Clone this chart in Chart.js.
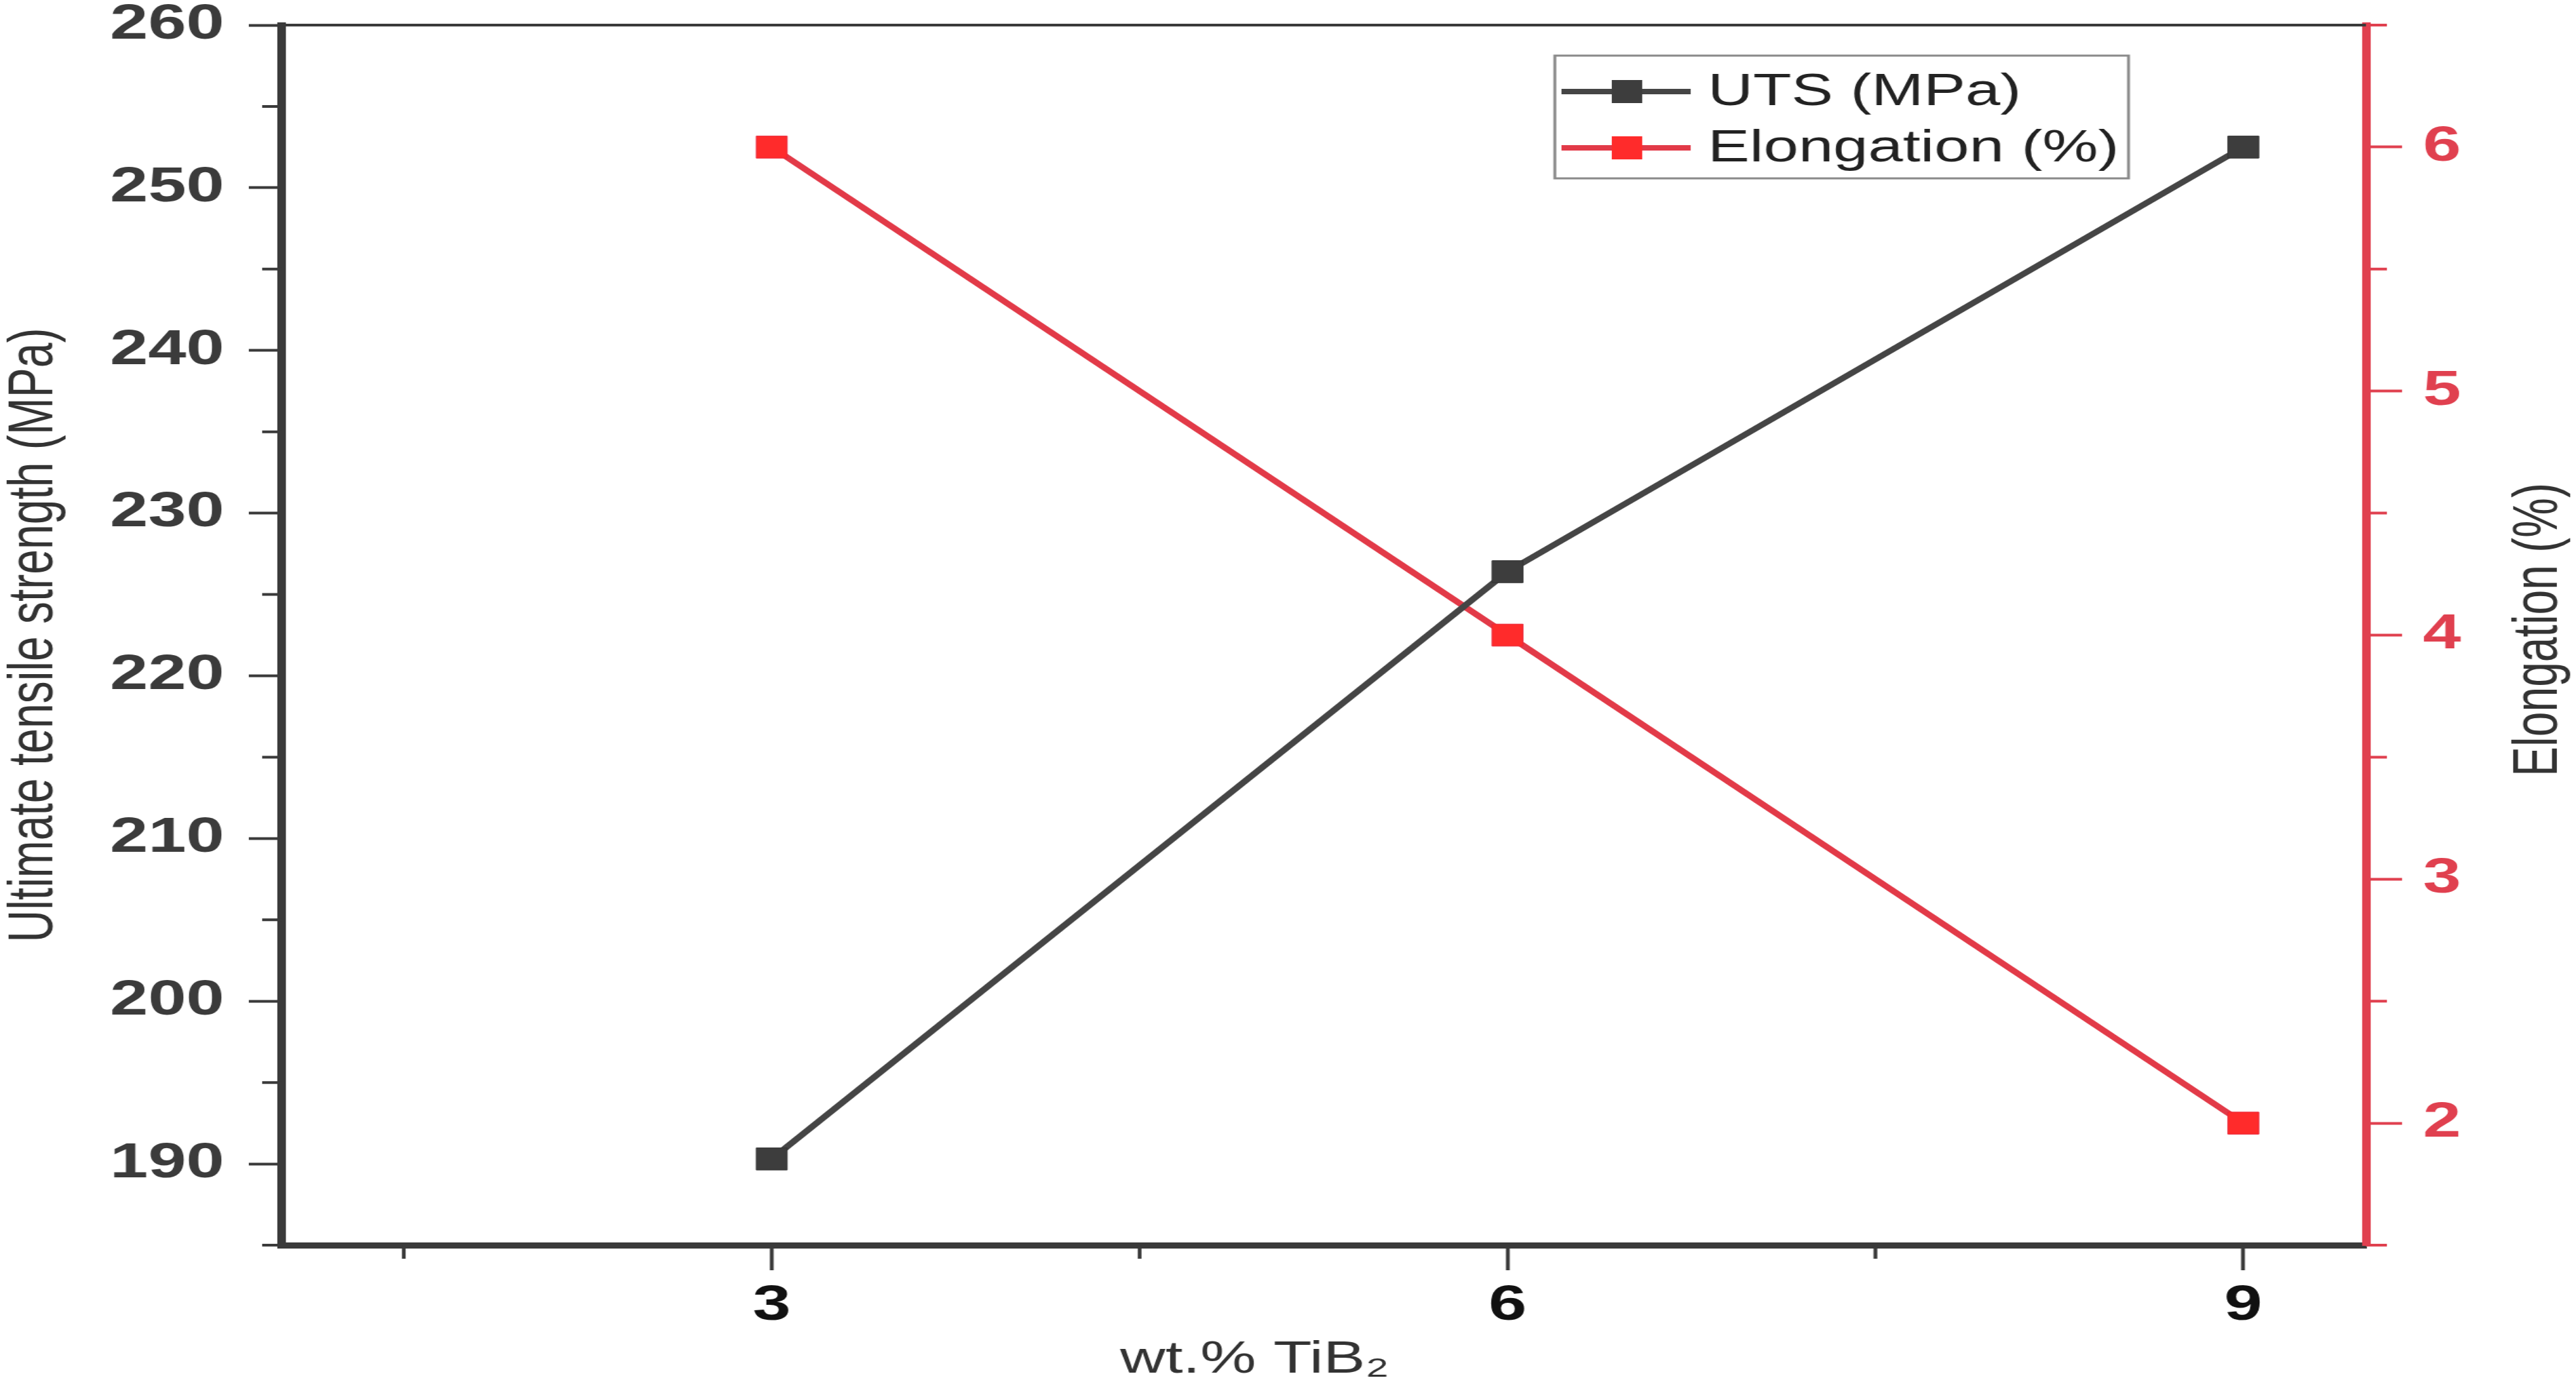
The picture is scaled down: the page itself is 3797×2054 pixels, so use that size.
<!DOCTYPE html>
<html>
<head>
<meta charset="utf-8">
<script src="https://cdn.jsdelivr.net/npm/chart.js@4.4.1/dist/chart.umd.min.js"></script>
<style>
  html, body { margin: 0; padding: 0; background: #fff; overflow: hidden; }
  /* the source figure is stretched sideways, so the chart is drawn narrower and widened */
  #wrap { width: 2712px; height: 2054px; transform: scaleX(1.4); transform-origin: 0 0; }
</style>
</head>
<body>
<div id="wrap"><canvas id="chart" width="2712" height="2054"></canvas></div>
<script>
const tib2 = [3, 6, 9];
const uts = [190.3, 226.4, 252.5];
const elongation = [6, 4, 2];

const xTicks = [3, 6, 9];
const xMinor = [1.5, 4.5, 7.5];
const utsTicks = [190, 200, 210, 220, 230, 240, 250, 260];
const utsMinor = [185, 195, 205, 215, 225, 235, 245, 255];
const elongTicks = [2, 3, 4, 5, 6];
const elongMinor = [1.5, 2.5, 3.5, 4.5, 5.5, 6.5];

const xTitle = "wt.% TiB₂";
const utsTitle = "Ultimate tensile strength (MPa)";
const elongTitle = "Elongation (%)";

const DARK = "#3a3a3a";
const RED = "#e0404f";
const FONT = "'Liberation Sans', Arial, sans-serif";

const minorTicks = {
  id: "minorTicks",
  afterDraw(chart) {
    const { ctx, chartArea } = chart;
    const { x, y, y1 } = chart.scales;
    ctx.save();
    ctx.lineWidth = 4;
    ctx.strokeStyle = DARK;
    ctx.beginPath();
    xMinor.forEach(v => {
      const px = x.getPixelForValue(v);
      ctx.moveTo(px, x.top);
      ctx.lineTo(px, x.top + 20);
    });
    utsMinor.forEach(v => {
      const py = y.getPixelForValue(v);
      ctx.moveTo(y.right, py);
      ctx.lineTo(y.right - 20, py);
    });
    ctx.moveTo(chartArea.left, chartArea.top);
    ctx.lineTo(chartArea.right, chartArea.top);
    ctx.stroke();
    ctx.strokeStyle = RED;
    ctx.beginPath();
    elongMinor.forEach(v => {
      const py = y1.getPixelForValue(v);
      ctx.moveTo(y1.left, py);
      ctx.lineTo(y1.left + 22, py);
    });
    ctx.stroke();
    ctx.restore();
  }
};

// right title reads bottom-to-top like the left one, x title sits left of centre
const axisTitles = {
  id: "axisTitles",
  afterDraw(chart) {
    const { ctx, chartArea } = chart;
    const { x, y1 } = chart.scales;
    ctx.save();
    ctx.font = "66px " + FONT;
    ctx.fillStyle = "#333";
    ctx.textAlign = "center";
    ctx.textBaseline = "middle";
    ctx.fillText(xTitle, chartArea.left + 0.467 * (chartArea.right - chartArea.left), x.bottom - 48);
    ctx.translate(y1.right - 38, (chartArea.top + chartArea.bottom) / 2 - 8);
    ctx.rotate(-Math.PI / 2);
    ctx.fillText(elongTitle, 0, 0);
    ctx.restore();
  }
};

const legendBox = {
  id: "legendBox",
  afterDraw(chart) {
    const ctx = chart.ctx;
    const left = 1637, top = 82, w = 604, h = 181;
    ctx.save();
    ctx.strokeStyle = "#8a8a8a";
    ctx.lineWidth = 3;
    ctx.strokeRect(left, top, w, h);
    chart.data.datasets.forEach((ds, i) => {
      const cy = top + 53 + i * 83;
      ctx.strokeStyle = ds.borderColor;
      ctx.lineWidth = 8;
      ctx.beginPath();
      ctx.moveTo(left + 7, cy);
      ctx.lineTo(left + 143, cy);
      ctx.stroke();
      ctx.fillStyle = ds.pointBackgroundColor;
      ctx.fillRect(left + 76 - 16, cy - 17, 32, 34);
      ctx.fillStyle = "#222";
      ctx.font = "66px " + FONT;
      ctx.textBaseline = "middle";
      ctx.fillText(ds.label, left + 161, cy + 2);
    });
    ctx.restore();
  }
};

new Chart(document.getElementById("chart"), {
  type: "line",
  data: {
    datasets: [
      {
        label: "UTS (MPa)",
        data: tib2.map((t, i) => ({ x: t, y: uts[i] })),
        yAxisID: "y",
        borderColor: "#454545",
        borderWidth: 8,
        pointStyle: "rect",
        pointRadius: 23,
        pointBackgroundColor: "#3d3d3d",
        pointBorderColor: "#333",
        pointBorderWidth: 1
      },
      {
        label: "Elongation (%)",
        data: tib2.map((t, i) => ({ x: t, y: elongation[i] })),
        yAxisID: "y1",
        borderColor: "#e23a48",
        borderWidth: 8,
        pointStyle: "rect",
        pointRadius: 23,
        pointBackgroundColor: "#ff2b2b",
        pointBorderColor: "#e8283a",
        pointBorderWidth: 1
      }
    ]
  },
  options: {
    responsive: false,
    animation: false,
    events: [],
    layout: { padding: { top: 37, left: 0, right: 0, bottom: 0 } },
    plugins: {
      legend: { display: false },
      tooltip: { enabled: false }
    },
    scales: {
      x: {
        type: "linear",
        position: "bottom",
        min: 1,
        max: 9.5,
        afterBuildTicks: s => { s.ticks = xTicks.map(v => ({ value: v })); },
        afterFit: s => { s.height = 218; },
        grid: { drawOnChartArea: false, tickLength: 37, tickWidth: 4, tickColor: DARK },
        border: { display: true, width: 9, color: DARK },
        ticks: { padding: 10, color: "#111", font: { family: FONT, size: 72, weight: "bold" } }
      },
      y: {
        type: "linear",
        position: "left",
        min: 185,
        max: 260,
        afterBuildTicks: s => { s.ticks = utsTicks.map(v => ({ value: v })); },
        afterFit: s => { s.width = 296; },
        grid: { drawOnChartArea: false, tickLength: 34, tickWidth: 4, tickColor: DARK },
        border: { display: true, width: 9, color: DARK },
        ticks: { padding: 26, color: "#3b3b3b", font: { family: FONT, size: 72, weight: "bold", lineHeight: 0.1 } },
        title: {
          display: true,
          text: utsTitle,
          color: "#333",
          padding: 0,
          font: { family: FONT, size: 66, lineHeight: 1.1 }
        }
      },
      y1: {
        type: "linear",
        position: "right",
        min: 1.5,
        max: 6.5,
        afterBuildTicks: s => { s.ticks = elongTicks.map(v => ({ value: v })); },
        afterFit: s => { s.width = 221; },
        grid: { drawOnChartArea: false, tickLength: 38, tickWidth: 4, tickColor: RED },
        border: { display: true, width: 9, color: RED },
        ticks: { padding: 22, color: RED, font: { family: FONT, size: 72, weight: "bold", lineHeight: 0.1 } }
      }
    }
  },
  plugins: [minorTicks, axisTitles, legendBox]
});
</script>
</body>
</html>
